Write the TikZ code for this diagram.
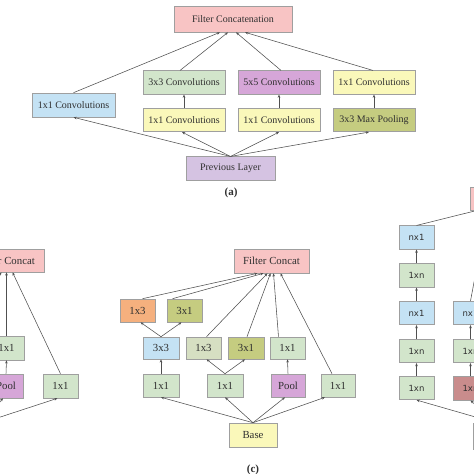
\documentclass[tikz,border=0pt]{standalone}
\usepackage{fontspec}
\setmainfont{Liberation Serif}
\newfontfamily\dsans{DejaVu Sans}
\usetikzlibrary{arrows.meta}
\definecolor{pinkc}{HTML}{F8C4C4}
\definecolor{bluec}{HTML}{C4E2F4}
\definecolor{greenc}{HTML}{D2E5CB}
\definecolor{magc}{HTML}{D6A6D8}
\definecolor{yelc}{HTML}{FAF8BA}
\definecolor{olivec}{HTML}{C5CC80}
\definecolor{lavc}{HTML}{D5C3E2}
\definecolor{orangec}{HTML}{F5B07E}
\definecolor{ggc}{HTML}{D6DFC2}
\definecolor{redc}{HTML}{C98C8C}
\definecolor{basec}{HTML}{F2F0DC}
\definecolor{edgec}{HTML}{505050}
\definecolor{txtc}{HTML}{303030}
\tikzset{
  bx/.style={draw=gray!75, line width=0.6pt, inner sep=0pt, text=txtc, font=\fontsize{10}{11}\selectfont},
  wa/.style={bx, minimum width=82pt, minimum height=23.5pt},
  wc/.style={bx, minimum width=35pt, minimum height=23pt, font=\fontsize{10.8}{12}\selectfont},
  wd/.style={bx, minimum width=35pt, minimum height=23.5pt, font=\dsans\fontsize{8.5}{9}\selectfont},
  ar/.style={draw=edgec, line width=0.55pt, -{Stealth[length=3.2pt,width=2.6pt]}},
  lbl/.style={font=\bfseries\fontsize{11}{12}\selectfont, text=txtc}
}
\begin{document}
\begin{tikzpicture}[x=1pt,y=-1pt]
\clip (0,0) rectangle (474,474);
\fill[white] (0,0) rectangle (474,474);

% ---------- (a) ----------
\node[wa, fill=pinkc, minimum width=118pt, minimum height=26pt] (fc) at (233,19) {Filter Concatenation};
\node[wa, fill=bluec, minimum width=83pt, minimum height=24pt] (b1) at (73.5,105) {1x1 Convolutions};
\node[wa, fill=greenc] (c33) at (184,82.5) {3x3 Convolutions};
\node[wa, fill=magc] (c55) at (279,82.5) {5x5 Convolutions};
\node[wa, fill=yelc] (c11) at (374,82.5) {1x1 Convolutions};
\node[wa, fill=yelc] (y1) at (184,120) {1x1 Convolutions};
\node[wa, fill=yelc] (y2) at (279,120) {1x1 Convolutions};
\node[wa, fill=olivec] (mp) at (374,120) {3x3 Max Pooling};
\node[wa, fill=lavc, minimum width=89pt] (prev) at (230.5,168.5) {Previous Layer};
\node[lbl] (la) at (231,193) {(a)};

\draw[ar] (prev.north) -- (b1.south);
\draw[ar] (prev.north) -- ([xshift=-2pt]y1.south);
\draw[ar] (prev.north) -- (y2.south);
\draw[ar] (prev.north) -- ([xshift=-5pt]mp.south);
\draw[ar] (y1.north) -- (c33.south);
\draw[ar] (y2.north) -- (c55.south);
\draw[ar] (mp.north) -- (c11.south);
\draw[ar] (b1.north) -- ([xshift=-13pt]fc.south);
\draw[ar] ([xshift=-4pt]c33.north) -- ([xshift=-5pt]fc.south);
\draw[ar] ([xshift=2pt]c55.north) -- ([xshift=3pt]fc.south);
\draw[ar] ([xshift=-1pt]c11.north) -- ([xshift=12pt]fc.south);

% ---------- (b) partial ----------
\node[wc, fill=pinkc, minimum width=75pt, minimum height=23pt] (bfc) at (6.5,260.5) {Filter Concat};
\node[wc, fill=greenc, minimum height=24pt] (b11) at (6.5,348) {1x1};
\node[wc, fill=magc, minimum height=24pt] (bpool) at (6,386) {Pool};
\node[wc, fill=greenc, minimum height=24pt] (b11r) at (60.5,386) {1x1};
\coordinate (bbase) at (-18,423);
\coordinate (bleft) at (-45,336);
\draw[ar] (bbase) -- ([xshift=-3pt]bpool.south);
\draw[ar] (bbase) -- ([xshift=-3pt]b11r.south);
\draw[ar] (bpool.north) -- (b11.south);
\draw[ar] (b11.north) -- (bfc.south);
\draw[ar] (b11r.north) -- ([xshift=6pt]bfc.south);
\draw[ar] (bleft) -- ([xshift=-5pt]bfc.south);

% ---------- (c) ----------
\node[wc, fill=pinkc, minimum width=75pt, minimum height=24pt] (cfc) at (271.5,261) {Filter Concat};
\node[wc, fill=orangec] (o13) at (137.5,310.5) {1x3};
\node[wc, fill=olivec] (o31) at (184.5,310.5) {3x1};
\node[wc, fill=bluec, minimum width=36pt, minimum height=22pt] (cb33) at (161,348) {3x3};
\node[wc, fill=ggc, minimum height=22pt] (g13) at (203.5,348) {1x3};
\node[wc, fill=olivec, minimum width=36pt, minimum height=22pt] (o31b) at (246,348) {3x1};
\node[wc, fill=greenc, minimum height=22pt] (g11) at (287.5,348) {1x1};
\node[wc, fill=greenc, minimum width=36pt] (p11a) at (161,385.5) {1x1};
\node[wc, fill=greenc, minimum width=36pt] (p11b) at (225,385.5) {1x1};
\node[wc, fill=magc, minimum width=34pt] (cpool) at (288,385.5) {Pool};
\node[wc, fill=greenc, minimum width=34pt] (p11c) at (338,385.5) {1x1};
\node[wc, fill=yelc, minimum width=48pt, minimum height=24pt] (cbase) at (253,435) {Base};
\node[lbl] (lc) at (253,470) {(c)};

\draw[ar] (cbase.north) -- (p11a.south);
\draw[ar] (cbase.north) -- (p11b.south);
\draw[ar] (cbase.north) -- ([xshift=-3pt]cpool.south);
\draw[ar] (cbase.north) -- ([xshift=-13pt]p11c.south);
\draw[ar] (p11a.north) -- (cb33.south);
\draw[ar] (cb33.north) -- ([xshift=3pt]o13.south);
\draw[ar] (cb33.north) -- ([xshift=-3pt]o31.south);
\draw[ar] (p11b.north) -- ([xshift=3pt]g13.south);
\draw[ar] (p11b.north) -- ([xshift=-1pt]o31b.south);
\draw[ar] (cpool.north) -- (g11.south);
\draw[ar] ([xshift=5pt]o13.north) -- ([xshift=-14pt]cfc.south);
\draw[ar] ([xshift=-12pt]o31.north) -- ([xshift=-8pt]cfc.south);
\draw[ar] ([xshift=3pt]g13.north) -- ([xshift=-4pt]cfc.south);
\draw[ar] ([xshift=1pt]o31b.north) -- ([xshift=-1pt]cfc.south);
\draw[ar] ([xshift=-9pt]g11.north) -- ([xshift=2pt]cfc.south);
\draw[ar] ([xshift=-6pt]p11c.north) -- ([xshift=9pt]cfc.south);

% ---------- (d) partial ----------
\node[wc, fill=pinkc, minimum width=75pt, minimum height=23pt] (dfc) at (507.5,198.5) {Filter Concat};
\node[wd, fill=bluec] (d5) at (416.5,237.5) {nx1};
\node[wd, fill=greenc] (d4) at (416.5,275.5) {1xn};
\node[wd, fill=bluec] (d3) at (416.5,313) {nx1};
\node[wd, fill=greenc] (d2) at (416.5,351) {1xn};
\node[wd, fill=greenc] (d1) at (416.5,388) {1xn};
\node[wd, fill=bluec] (e3) at (470.5,313) {nx1};
\node[wd, fill=greenc] (e2) at (470.5,351) {1xn};
\node[wd, fill=redc] (e1) at (470.5,388.5) {1xn};
\node[wc, fill=basec, minimum width=48pt, minimum height=26pt] (dbase) at (497,436.5) {Base};

\draw[ar] (dbase.north) -- (d1.south);
\draw[ar] (dbase.north) -- (e1.south);
\draw[ar] (d1.north) -- (d2.south);
\draw[ar] (d2.north) -- (d3.south);
\draw[ar] (d3.north) -- (d4.south);
\draw[ar] (d4.north) -- (d5.south);
\draw[ar] (e1.north) -- (e2.south);
\draw[ar] (e2.north) -- (e3.south);
\draw[ar] (d5.north) -- ([xshift=-30pt]dfc.south);
\draw[ar] (e3.north) -- ([xshift=-20pt]dfc.south);
\end{tikzpicture}
\end{document}
